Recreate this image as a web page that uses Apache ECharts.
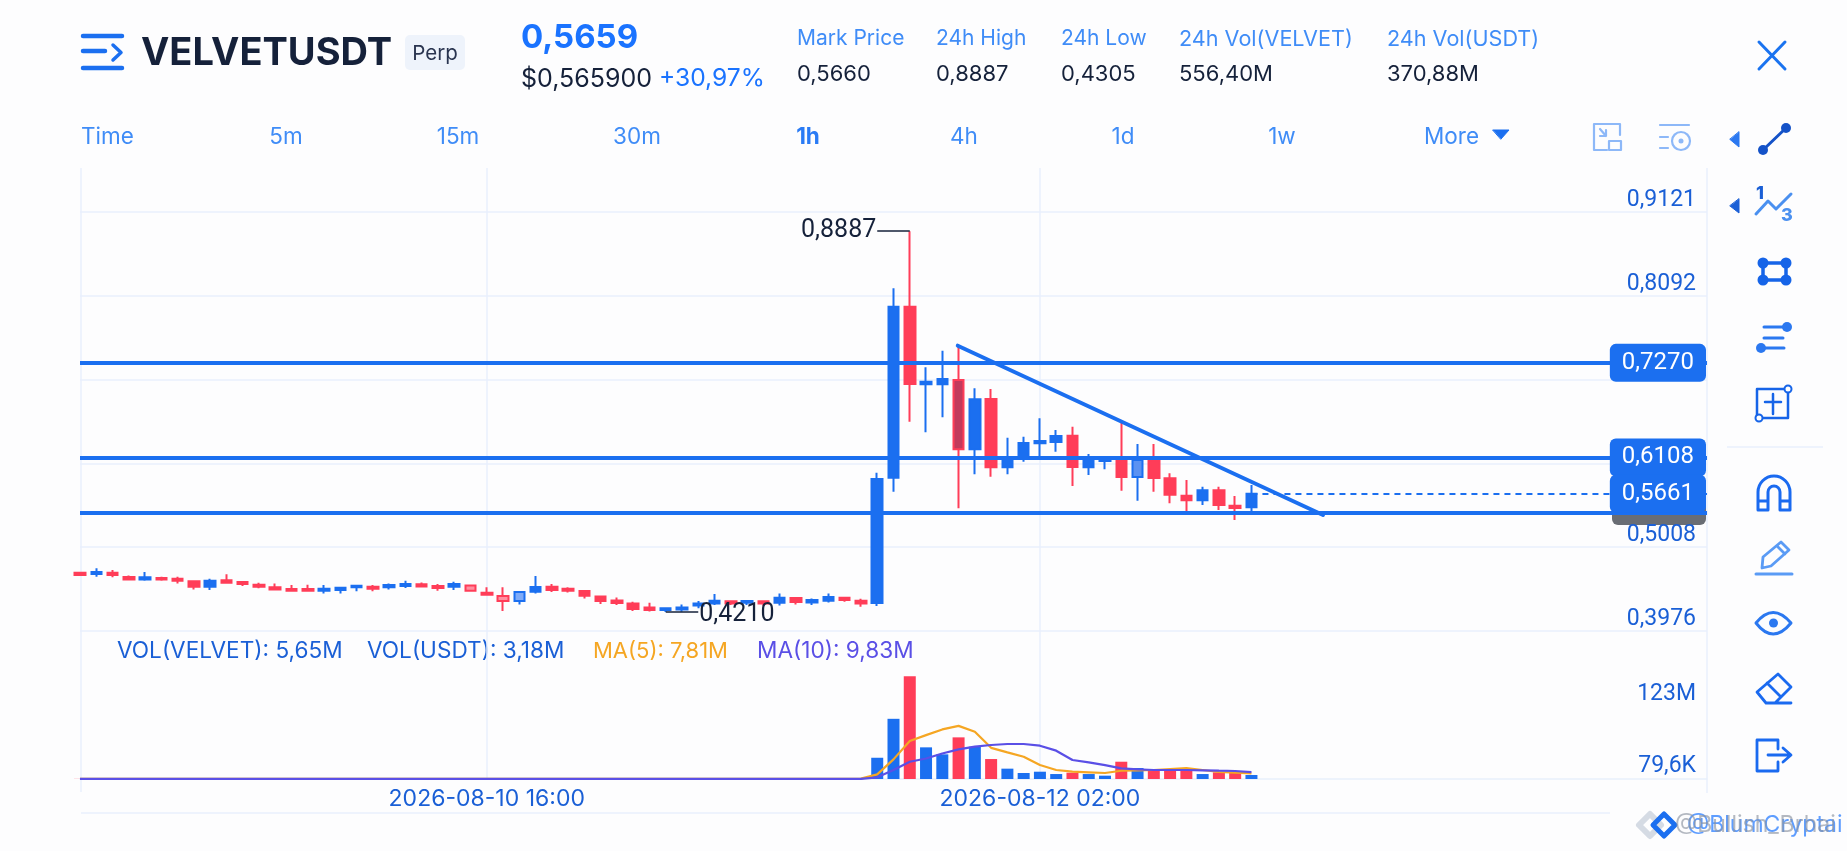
<!DOCTYPE html>
<html><head><meta charset="utf-8">
<style>html,body{margin:0;padding:0;background:#fdfdfe}#c{width:1847px;height:851px}
#edge{position:absolute;left:50px;top:470px;width:30px;height:40px;background:#fdfdfe}</style>
<script src="https://cdn.jsdelivr.net/npm/echarts@6/dist/echarts.min.js"></script>
</head><body><div id="c"></div><div id="edge"></div>
<script>
// ---------- data ----------
// one row per hour: open, close, low, high
const ohlc = [
[.4692,.4664,.4664,.4692],[.4676,.4700,.4643,.4746],[.4692,.4664,.4635,.4725],[.4639,.4610,.4602,.4659],
[.4610,.4635,.4594,.4700],[.4627,.4610,.4594,.4643],[.4618,.4594,.4561,.4643],[.4586,.4520,.4487,.4594],
[.4520,.4594,.4479,.4618],[.4598,.4569,.4561,.4672],[.4577,.4553,.4528,.4590],[.4545,.4520,.4500,.4569],
[.4512,.4487,.4479,.4561],[.4491,.4471,.4467,.4540],[.4491,.4471,.4467,.4545],[.4471,.4495,.4438,.4540],
[.4479,.4508,.4438,.4512],[.4512,.4532,.4463,.4540],[.4520,.4495,.4463,.4540],[.4512,.4540,.4487,.4561],
[.4528,.4553,.4504,.4594],[.4549,.4524,.4512,.4573],[.4528,.4504,.4471,.4553],[.4520,.4553,.4479,.4582],
[.4536,.4471,.4463,.4545],[.4446,.4422,.4413,.4512],[.4405,.4344,.4221,.4512],[.4344,.4454,.4303,.4454],
[.4458,.4516,.4438,.4651],[.4520,.4479,.4454,.4553],[.4495,.4471,.4450,.4512],[.4467,.4409,.4376,.4471],
[.4401,.4344,.4307,.4405],[.4352,.4319,.4294,.4389],[.4315,.4245,.4221,.4335],[.4266,.4233,.4215,.4323],
[.4233,.4254,.4210,.4266],[.4241,.4266,.4212,.4303],[.4290,.4315,.4254,.4344],[.4315,.4348,.4294,.4430],
[.4340,.4315,.4294,.4340],[.4323,.4344,.4294,.4356],[.4340,.4315,.4282,.4348],[.4323,.4385,.4290,.4438],
[.4381,.4331,.4303,.4385],[.4327,.4356,.4294,.4376],[.4348,.4393,.4327,.4438],[.4385,.4356,.4335,.4389],
[.4348,.4315,.4274,.4372],[.4320,.5843,.4283,.5921],[.5859,.7960,.5687,.8186],[.7960,.7010,.6547,.8887],
[.7007,.7039,.6417,.7216],[.7007,.7072,.6601,.7419],[.7060,.6208,.5483,.7469],[.6208,.6822,.5901,.6958],
[.6826,.5987,.5872,.6949],[.5987,.6098,.5901,.6351],[.6098,.6286,.6056,.6363],[.6282,.6310,.6098,.6589],
[.6298,.6372,.6179,.6445],[.6375,.5991,.5757,.6486],[.5987,.6101,.5892,.6150],[.6064,.6077,.5962,.6101],
[.6077,.5868,.5700,.6547],[.5868,.6077,.5577,.6273],[.6068,.5856,.5687,.6273],[.5852,.5650,.5545,.5913],
[.5638,.5582,.5442,.5831],[.5582,.5705,.5524,.5749],[.5705,.5524,.5462,.5749],[.5515,.5487,.5340,.5634],
[.5496,.5661,.5442,.5770]
];
const volume = [0.18,0.22,0.16,0.2,0.19,0.15,0.17,0.31,0.34,0.2,0.16,0.18,0.15,0.14,0.16,0.17,0.19,0.15,0.16,0.18,0.2,0.14,0.17,0.22,0.29,0.26,0.41,0.33,0.38,0.2,0.16,0.22,0.24,0.2,0.27,0.21,0.16,0.15,0.17,0.2,0.14,0.16,0.15,0.24,0.2,0.16,0.18,0.14,0.0796,30,85,145,44.7,34.8,58.8,45.6,28.2,14.6,8.5,10.3,7,8.9,7,4.7,24.4,15.5,11.7,11.7,13.6,7,9.4,9.4,5.65];
const ma5 = [0.2,0.2,0.19,0.19,0.19,0.19,0.18,0.2,0.22,0.22,0.22,0.22,0.2,0.17,0.16,0.16,0.16,0.16,0.16,0.17,0.17,0.17,0.17,0.18,0.2,0.22,0.28,0.3,0.34,0.32,0.29,0.26,0.24,0.2,0.22,0.23,0.22,0.2,0.2,0.18,0.17,0.16,0.16,0.17,0.18,0.18,0.18,0.18,0.5,6.6,27.7,53.6,62,70,75,66.7,44,37.6,31.5,19.7,12.7,10.3,9.4,8.5,11.7,12.2,12.7,14.1,15.5,12.7,9.9,8.9,7.81];
const ma10 = [0.2,0.2,0.2,0.19,0.19,0.19,0.19,0.19,0.2,0.2,0.2,0.2,0.2,0.2,0.19,0.19,0.18,0.18,0.18,0.17,0.17,0.17,0.17,0.17,0.18,0.19,0.22,0.23,0.25,0.25,0.25,0.25,0.25,0.24,0.25,0.24,0.24,0.23,0.23,0.21,0.2,0.2,0.19,0.19,0.19,0.19,0.18,0.18,0.3,2.4,12.7,24.4,29,36,41.8,45.6,48,49.4,49.4,47,40,26.8,23.5,19.7,15,13.6,12.7,12.7,12.7,12.2,11.7,11.3,9.83];
const levelsSolid = [0.7270, 0.6108];
const levelHidden = 0.5429;
const lastPrice = 0.5661;
const trendLine = [[53.95,0.7481],[76.4,0.5401]];
const priceTicks = [0.3976,0.5008,0.6034,0.7063,0.8092,0.9121];
const priceLabels = {0.3976:'0,3976',0.5008:'0,5008',0.8092:'0,8092',0.9121:'0,9121'};
const volTicks = [0.0796,123];
const highPoint = {from:51,to:49,value:0.8887,text:'0,8887',dy:0};
const lowPoint = {from:36,to:38,value:0.4210,text:'0,4210',dy:3};
const timeLabels = {25:'2026-08-10 16:00',59:'2026-08-12 02:00'};
const bodyTint = {24:'#ff8fa0',25:'#ffa3b0',26:'#ff8fa0',27:'#7fabf8',54:'#c23a5c',65:'#5b92f2'};
const SLOTS = 101;
const categories = Array.from({length:SLOTS},(_,i)=>timeLabels[i]||String(i));

// ---------- style ----------
const BG='#fdfdfe', BLUE='#1b6ff0', RED='#ff3d58', GRID='#e8effc', TICK='#1a5fd6', DARK='#15213a', ORANGE='#f5a623', PURPLE='#5a4fe6', LIGHT='#3f8cf7';
const FONT='Roboto', HFONT='Inter';
let iconId=0;
const T=(x,y,text,size,fill,extra)=>({type:'text',silent:true,style:Object.assign({x,y,text,fill,font:`${(extra&&extra.w)||400} ${size}px ${HFONT}`,textAlign:(extra&&extra.a)||'left',textVerticalAlign:'middle',opacity:(extra&&extra.o)||1})});
const P=(d,stroke,lw,fill,o)=>{const name='icn'+(iconId++);echarts.graphic.registerShape(name,echarts.graphic.extendPath(d,{}));
  return {type:name,silent:true,shape:{},style:{stroke:stroke,lineWidth:lw,fill:fill||'none',lineCap:'round',lineJoin:'round',opacity:o==null?1:o}};};
const C=(x,y,r,fill,stroke,lw)=>({type:'circle',silent:true,shape:{cx:x,cy:y,r},style:{fill,stroke:stroke||'none',lineWidth:lw||0}});
const R=(x,y,w,h,r,fill)=>({type:'rect',silent:true,shape:{x,y,width:w,height:h,r},style:{fill}});
const L=(x1,y1,x2,y2,c)=>({type:'line',silent:true,shape:{x1,y1,x2,y2},style:{stroke:c||GRID,lineWidth:1.5}});

const gfx=[
 L(81,168,81,792),L(1707,168,1707,793),L(81,813,1610,813),L(1727,447,1823,447),
 P('M83 36H122M83 51H105M83 68H122',BLUE,4.5),P('M113 45L121 52.5L113 60',BLUE,3.5),
 T(141,54,'VELVETUSDT',38,DARK,{w:700}),
 R(405,35,60,35,5,'#eef3fb'),T(435,54,'Perp',20.5,'#2a3550',{a:'center'}),
 T(521,38,'0,5659',33,'#1a73ff',{w:700}),
 T(521,79,'$0,565900',25,DARK),T(659,79,'+30,97%',24.6,'#1a73ff'),
 T(797,39,'Mark Price',21,LIGHT),T(797,74,'0,5660',22,DARK),
 T(936,39,'24h High',21,LIGHT),T(936,74,'0,8887',22,DARK),
 T(1061,39,'24h Low',21,LIGHT),T(1061,74,'0,4305',22,DARK),
 T(1179,39,'24h Vol(VELVET)',21.6,LIGHT),T(1179,74,'556,40M',22,DARK),
 T(1387,39,'24h Vol(USDT)',21.6,LIGHT),T(1387,74,'370,88M',22,DARK),
 P('M1759 42L1785 69M1785 42L1759 69','#1a73f0',3),
 T(81,137,'Time',22.5,LIGHT),T(286,137,'5m',22.5,LIGHT,{a:'center'}),T(458,137,'15m',22.5,LIGHT,{a:'center'}),T(637,137,'30m',22.5,LIGHT,{a:'center'}),
 T(808,137,'1h',22.5,'#2a7bf5',{a:'center',w:700}),T(964,137,'4h',22.5,LIGHT,{a:'center'}),T(1123,137,'1d',22.5,LIGHT,{a:'center'}),T(1282,137,'1w',22.5,LIGHT,{a:'center'}),
 T(1424,137,'More',22.5,LIGHT),P('M1493 130H1509L1501 139Z',BLUE,1,BLUE),
 P('M1594 137V124H1620V135M1594 137V150H1607M1600 129L1606 136M1606 130V136H1600','#8db8f8',2.2),P('M1609 141H1621V150H1609Z','#8db8f8',2.2),
 P('M1660 125H1689M1660 137H1668M1660 148H1668','#8db8f8',2.2),C(1681,141,9,'none','#8db8f8',2.2),C(1681,141,2.5,'#8db8f8'),
 P('M1739 132V147L1730 139.5Z','#2b78f0',1,'#2b78f0'),
 P('M1763 150L1786 128','#1452c8',3),C(1763,150,5,'#1452c8'),C(1786,128,5,'#1452c8'),
 P('M1739 199V213L1730 206Z','#1a5fd6',1,'#1a5fd6'),
 P('M1756 214L1768 201L1776 209L1791 194','#4a90f0',3),T(1756,194,'1',18,'#1a5fd6',{w:800}),T(1781,216,'3',18,'#4a90f0',{w:800}),
 P('M1763 263H1786V280H1763Z','#1664e8',3.5),C(1763,263,5.5,'#1664e8'),C(1786,263,5.5,'#1664e8'),C(1763,280,5.5,'#1664e8'),C(1786,280,5.5,'#1664e8'),
 P('M1764 327H1784M1764 338H1783M1761 348H1784','#2b78f0',3),C(1787,327,5,'#2b78f0'),C(1761,348,5,'#2b78f0'),
 P('M1757 418V389H1788V418H1759','#1664e8',2.5),C(1788,389,3.5,'#fff','#1664e8',2),C(1759,418,3.5,'#fff','#1664e8',2),P('M1773 394V414M1765 402H1781','#1664e8',2.5),
 P('M1758 510V492A16 16 0 0 1 1790 492V510H1780V492A6 6 0 0 0 1768 492V510ZM1758 501H1768M1780 501H1790','#1a6af0',3),
 P('M1763 557L1781 542L1789 550L1771 566L1762 568ZM1777 546L1785 554','#5a9bf5',2.8),P('M1756 574H1792','#5a9bf5',3),
 P('M1756 623Q1773 602 1791 623Q1773 645 1756 623Z','#2b78f0',3),C(1773.5,623,4.5,'#2b78f0'),
 P('M1757 692L1778 674L1791 687L1775 703H1766ZM1767 683L1781 697M1775 703H1791','#1a6af0',2.8),
 P('M1778 749V740H1757V771H1778V762M1768 755H1790M1783 748L1791 755L1783 762','#1a6af0',2.8),
 T(117,651,'VOL(VELVET): 5,65M',22.6,TICK),T(367,651,'VOL(USDT): 3,18M',22.6,TICK),T(593,651,'MA(5): 7,81M',22,ORANGE),T(757,651,'MA(10): 9,83M',22.6,PURPLE),
 R(1612,482,94,43,6,'#696d74'),
 P('M1650 814L1661 825L1650 836L1639 825Z','#d5dbe4',6,'none'),P('M1664 814L1675 825L1664 836L1653 825Z',BLUE,5,'none'),
 T(1687,825,'@BlumCryptai',23,'#1a73ff',{o:0.7}),T(1675,825,'@Bullish_Brhai',23,'#8c93a0',{o:0.65})
];

const badge=(text)=>({show:true,position:'end',formatter:text,distance:0,align:'right',verticalAlign:'middle',color:'#fff',fontFamily:FONT,fontSize:24,backgroundColor:BLUE,borderRadius:6,padding:[6,12,6,12],lineHeight:26,offset:[-1,0]});
const extreme=(p)=>[[{coord:[p.from,p.value],lineStyle:{color:DARK,width:1.6,type:'solid'},label:{show:true,position:'end',formatter:p.text,color:DARK,fontFamily:FONT,fontSize:25,distance:1,offset:[0,p.dy]}},{coord:[p.to,p.value]}]];
const candleItems = ohlc.map((row,i)=>bodyTint[i]?{value:row,itemStyle:{color:bodyTint[i],color0:bodyTint[i]}}:row);

const option={
 animation:false,
 backgroundColor:BG,
 textStyle:{fontFamily:FONT},
 graphic:gfx,
 grid:[{left:80,top:168,width:1627,height:463,containLabel:false},{left:80,top:631,width:1627,height:148,containLabel:false}],
 xAxis:[
  {type:'category',gridIndex:0,data:categories,boundaryGap:false,axisLine:{show:false},axisTick:{show:false},axisLabel:{show:false},
   splitLine:{show:true,interval:(i)=>!!timeLabels[i],lineStyle:{color:GRID,width:1.5}}},
  {type:'category',gridIndex:1,data:categories,boundaryGap:false,axisLine:{show:true,lineStyle:{color:GRID,width:1.5}},axisTick:{show:false},
   axisLabel:{show:true,interval:(i)=>!!timeLabels[i],formatter:(v)=>/-/.test(v)?v:'',color:TICK,fontFamily:HFONT,fontSize:23,margin:9},
   splitLine:{show:true,interval:(i)=>!!timeLabels[i],lineStyle:{color:GRID,width:1.5}}},
  {type:'value',gridIndex:0,show:false,min:0,max:SLOTS-1,splitLine:{show:false}}
 ],
 yAxis:[
  {type:'value',gridIndex:0,position:'right',min:0.3976,max:0.9664,
   axisLine:{show:false},axisTick:{show:false,customValues:priceTicks},
   splitLine:{show:true,lineStyle:{color:GRID,width:1.5}},
   axisLabel:{show:true,customValues:priceTicks,inside:true,margin:11,verticalAlign:'bottom',color:TICK,fontFamily:FONT,fontSize:23,
     showMinLabel:true,showMaxLabel:true,formatter:(v)=>priceLabels[v]||''}},
  {type:'value',gridIndex:1,position:'right',min:0,max:209,
   axisLine:{show:false},splitLine:{show:false},axisTick:{show:false,customValues:volTicks},
   axisLabel:{show:true,customValues:volTicks,inside:true,margin:11,color:TICK,fontFamily:FONT,fontSize:23,
     formatter:(v)=>v<1?'{low|79,6K}':'{high|123M}',rich:{low:{color:TICK,fontFamily:FONT,fontSize:23,padding:[0,0,26,0]},high:{color:TICK,fontFamily:FONT,fontSize:23,padding:[4,0,0,0]}}}}
 ],
 series:[
  {type:'candlestick',xAxisIndex:0,yAxisIndex:0,data:candleItems,barWidth:11,z:3,clip:true,
   itemStyle:{color:BLUE,color0:RED,borderColor:BLUE,borderColor0:RED,borderWidth:2},
   markLine:{silent:true,symbol:'none',animation:false,precision:4,label:{show:false},
    data:[...extreme(highPoint),...extreme(lowPoint)]}},
  {type:'line',name:'levels',xAxisIndex:2,yAxisIndex:0,data:[],z:4,
   markLine:{silent:true,symbol:'none',animation:false,precision:4,lineStyle:{color:BLUE,width:4,type:'solid'},
    data:[{yAxis:levelHidden,label:{show:false}},...levelsSolid.map(v=>({yAxis:v,label:badge(String(v).replace('.',',').padEnd(6,'0'))}))]}},
  {type:'line',name:'last',xAxisIndex:0,yAxisIndex:0,data:[],z:6,
   markLine:{silent:true,symbol:'none',animation:false,precision:4,lineStyle:{color:BLUE,width:2,type:[6,5]},
    data:[[{coord:[ohlc.length-1,lastPrice],label:badge('0,5661')},{coord:[SLOTS-1,lastPrice]}]]}},
  {type:'line',name:'trend',xAxisIndex:2,yAxisIndex:0,data:trendLine,showSymbol:false,silent:true,z:5,lineStyle:{color:BLUE,width:4,cap:'round'}},
  {type:'bar',xAxisIndex:1,yAxisIndex:1,data:volume.map((v,i)=>({value:v,itemStyle:{color:ohlc[i][1]>=ohlc[i][0]?BLUE:RED}})),barWidth:12,z:2},
  {type:'line',xAxisIndex:1,yAxisIndex:1,data:ma5,showSymbol:false,silent:true,z:4,lineStyle:{color:ORANGE,width:2.2}},
  {type:'line',xAxisIndex:1,yAxisIndex:1,data:ma10,showSymbol:false,silent:true,z:5,lineStyle:{color:PURPLE,width:2.2}}
 ]
};
const chart=echarts.init(document.getElementById('c'));
chart.setOption(option);
</script></body></html>
